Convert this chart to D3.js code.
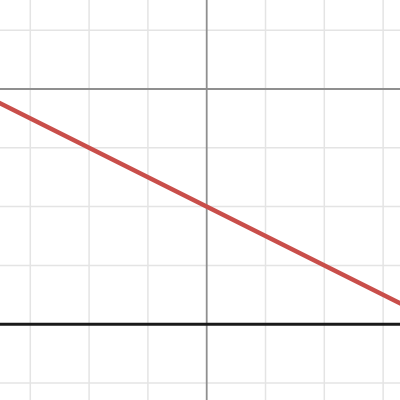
<!DOCTYPE html>
<html>
<head>
<meta charset="utf-8">
<script src="https://cdn.jsdelivr.net/npm/d3@7"></script>
<style>
  html, body { margin: 0; padding: 0; background: #fff; }
  svg { display: block; }
</style>
</head>
<body>
<svg id="chart" width="400" height="400"></svg>
<script>
// view window (graph units)
const xDomain = [-3.515, 3.287];
const yDomain = [-5.289, 1.514];
// grid lines every unit
const xGrid = [-3, -2, -1, 1, 2, 3];
const yGrid = [-5, -4, -3, -2, -1, 1];
// y = -0.5x - 2
const redLine = [[-3.6, -0.2], [3.4, -3.7]];
// y = -4
const blackLine = [[-3.6, -4], [3.4, -4]];

const W = 400, H = 400;
const svg = d3.select('#chart');
const x = d3.scaleLinear().domain(xDomain).range([0, W]);
const y = d3.scaleLinear().domain(yDomain).range([H, 0]);

// minor grid
svg.append('g').selectAll('line').data(xGrid).enter().append('line')
  .attr('x1', d => x(d)).attr('x2', d => x(d)).attr('y1', 0).attr('y2', H)
  .attr('stroke', '#e4e4e4').attr('stroke-width', 1.5);
svg.append('g').selectAll('line').data(yGrid).enter().append('line')
  .attr('y1', d => y(d)).attr('y2', d => y(d)).attr('x1', 0).attr('x2', W)
  .attr('stroke', '#e4e4e4').attr('stroke-width', 1.5);

// axes
svg.append('line').attr('x1', x(0)).attr('x2', x(0)).attr('y1', 0).attr('y2', H)
  .attr('stroke', '#8f8f8f').attr('stroke-width', 1.8);
svg.append('line').attr('y1', y(0)).attr('y2', y(0)).attr('x1', 0).attr('x2', W)
  .attr('stroke', '#8f8f8f').attr('stroke-width', 1.8);

const line = d3.line().x(d => x(d[0])).y(d => y(d[1]));

svg.append('path').datum(blackLine).attr('d', line)
  .attr('fill', 'none').attr('stroke', '#1a1a1a').attr('stroke-width', 3);
svg.append('path').datum(redLine).attr('d', line)
  .attr('fill', 'none').attr('stroke', '#c94e4a').attr('stroke-width', 4.5);
</script>
</body>
</html>
